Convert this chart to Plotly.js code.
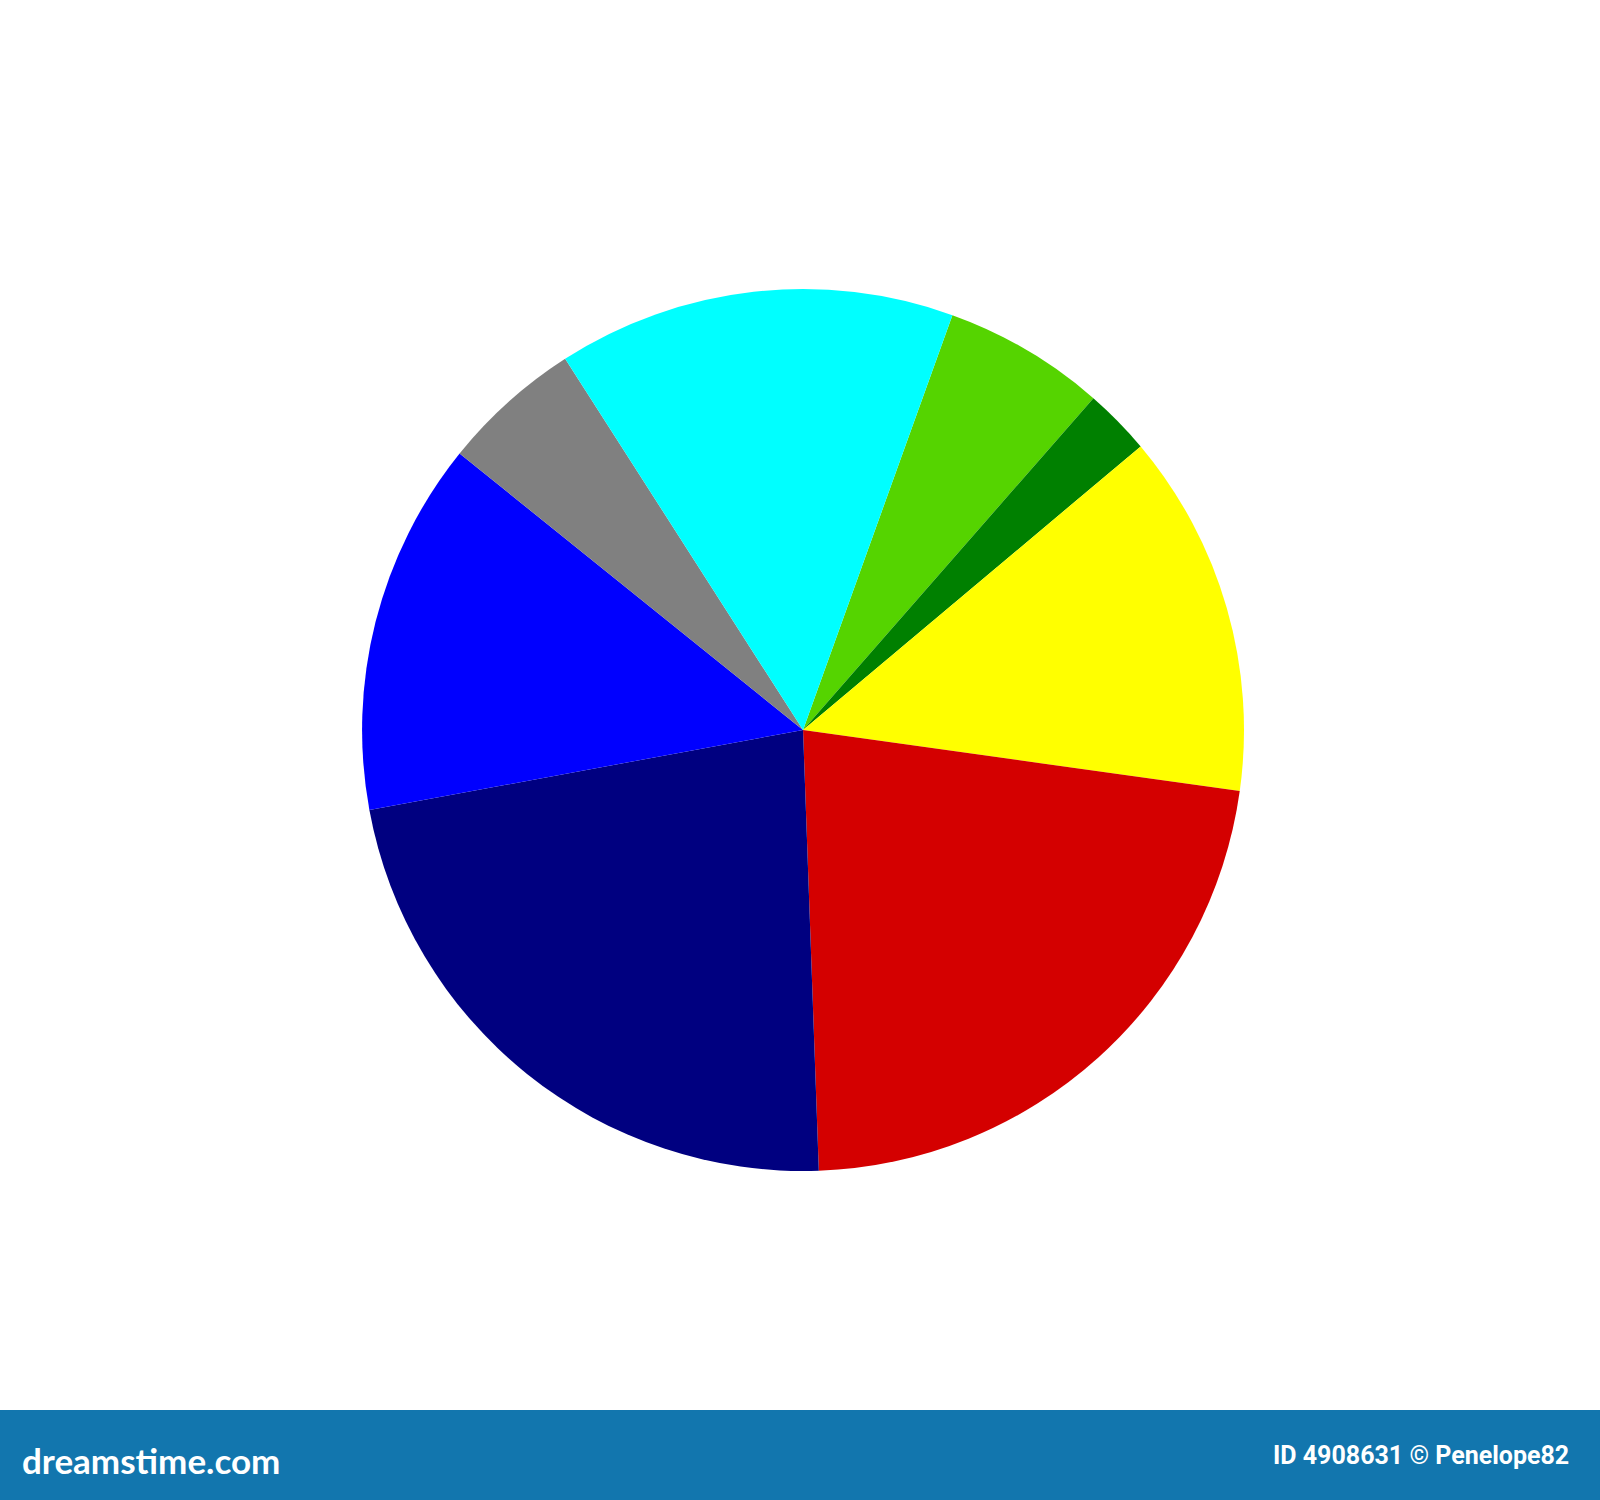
<!DOCTYPE html>
<html>
<head>
<meta charset="utf-8">
<script src="https://cdn.plot.ly/plotly-3.0.1.min.js"></script>
<style>html,body{margin:0;padding:0;background:#fff;}#chart{width:1600px;height:1500px;}</style>
</head>
<body>
<div id="chart"></div>
<script>
// Slices listed clockwise starting at the cyan/light-green boundary
const categories = ["Light green", "Dark green", "Yellow", "Red", "Navy", "Blue", "Gray", "Cyan"];
const values = [5.94, 2.44, 13.33, 22.22, 22.67, 13.69, 5.14, 14.57];
const sliceColors = ["#55D400", "#008000", "#FFFF00", "#D40000", "#000080", "#0000FF", "#808080", "#00FFFF"];
const brandText = "dreamstime.com";
const creditText = "ID 4908631 © Penelope82";

const trace = {
  type: "pie",
  labels: categories,
  values: values,
  marker: { colors: sliceColors, line: { width: 0 } },
  sort: false,
  direction: "clockwise",
  rotation: 19.8,
  textinfo: "none",
  hoverinfo: "label+percent",
  domain: { x: [0.2263, 0.7775], y: [0.2193, 0.8073] }
};

const layout = {
  width: 1600,
  height: 1500,
  margin: { l: 0, r: 0, t: 0, b: 0 },
  paper_bgcolor: "#ffffff",
  showlegend: false,
  shapes: [{
    type: "rect", xref: "paper", yref: "paper",
    x0: 0, x1: 1, y0: 0, y1: 90 / 1500,
    fillcolor: "#1276AE", line: { width: 0 }, layer: "above"
  }],
  annotations: [
    {
      text: "<b>" + brandText + "</b>", xref: "paper", yref: "paper",
      x: 20 / 1600, y: 40 / 1500, xanchor: "left", yanchor: "middle",
      showarrow: false,
      font: { family: "Lato, 'Open Sans', sans-serif", size: 35, color: "#ffffff" }
    },
    {
      text: "<b>" + creditText + "</b>", xref: "paper", yref: "paper",
      x: 1571 / 1600, y: 45 / 1500, xanchor: "right", yanchor: "middle",
      showarrow: false,
      font: { family: "Roboto, sans-serif", size: 25, color: "#ffffff" }
    }
  ]
};

Plotly.newPlot("chart", [trace], layout, { staticPlot: true });
</script>
</body>
</html>
